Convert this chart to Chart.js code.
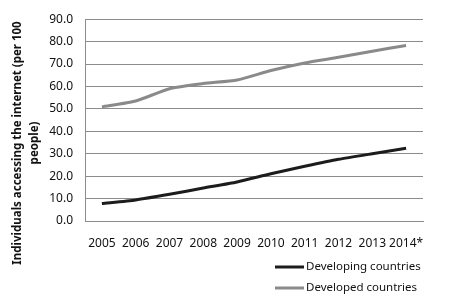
<!DOCTYPE html>
<html lang="en">
<head>
    <meta charset="UTF-8">
    <title>Individuals accessing the internet</title>
    <script src="https://cdn.jsdelivr.net/npm/chart.js"></script>
    <style>
        html, body {
            margin: 0;
            padding: 0;
            background: #fff;
        }
        .container {
            width: 474px;
            height: 301px;
        }
    </style>
</head>
<body>

    <div class="container">
        <canvas id="netChart" width="474" height="301"></canvas>
    </div>

    <script>
        // data
        const years = ['2005', '2006', '2007', '2008', '2009', '2010', '2011', '2012', '2013', '2014*'];
        const developing = [7.8, 9.4, 11.9, 14.7, 17.4, 21.1, 24.4, 27.5, 30.0, 32.4];
        const developed = [50.9, 53.5, 59.0, 61.3, 62.9, 67.1, 70.5, 73.0, 75.7, 78.3];
        const yTitle = ['Individuals accessing the internet (per 100', 'people)'];

        const FONT = '"Noto Sans", sans-serif';
        const GRID = '#8c8c8c';

        // y title and stacked legend, drawn on the canvas
        const extras = {
            id: 'extras',
            afterDraw(chart) {
                const ctx = chart.ctx;
                ctx.save();

                // axis title, centred on the whole chart height
                ctx.fillStyle = '#111';
                ctx.font = 'bold 11.5px ' + FONT;
                ctx.textAlign = 'center';
                ctx.textBaseline = 'middle';
                ctx.translate(18, 143);
                ctx.rotate(-Math.PI / 2);
                ctx.fillText(yTitle[0], 0, 0);
                ctx.fillText(yTitle[1], 0, 17);
                ctx.restore();

                // legend
                ctx.save();
                ctx.font = '11.5px ' + FONT;
                ctx.textBaseline = 'middle';
                ctx.textAlign = 'left';
                chart.data.datasets.forEach((ds, i) => {
                    const y = 267 + i * 21;
                    ctx.strokeStyle = ds.borderColor;
                    ctx.lineWidth = ds.borderWidth;
                    ctx.beginPath();
                    ctx.moveTo(275, y);
                    ctx.lineTo(304, y);
                    ctx.stroke();
                    ctx.fillStyle = '#111';
                    ctx.fillText(ds.label, 306, y);
                });
                ctx.restore();
            }
        };

        new Chart(document.getElementById('netChart'), {
            type: 'line',
            data: {
                labels: years,
                datasets: [{
                    label: 'Developing countries',
                    data: developing,
                    borderColor: '#1c1c1c',
                    borderWidth: 3,
                    pointRadius: 0,
                    tension: 0.2
                }, {
                    label: 'Developed countries',
                    data: developed,
                    borderColor: '#8a8a8a',
                    borderWidth: 3,
                    pointRadius: 0,
                    tension: 0.2
                }]
            },
            options: {
                responsive: false,
                animation: false,
                layout: {
                    padding: { top: 14, right: 51, bottom: 50, left: 0 }
                },
                plugins: {
                    legend: { display: false },
                    tooltip: { enabled: false }
                },
                scales: {
                    x: {
                        offset: true,
                        grid: { display: false },
                        border: { display: true, color: GRID, width: 1 },
                        ticks: {
                            color: '#111',
                            font: { family: FONT, size: 12 },
                            padding: 7,
                            maxRotation: 0,
                            autoSkip: false
                        },
                        afterFit(scale) { scale.height = 30; }
                    },
                    y: {
                        min: 0,
                        max: 90,
                        grid: { color: GRID, drawTicks: false },
                        border: { display: true, color: GRID, width: 1 },
                        ticks: {
                            stepSize: 10,
                            color: '#111',
                            font: { family: FONT, size: 12 },
                            padding: 12,
                            callback: (v) => v.toFixed(1)
                        },
                        afterFit(scale) { scale.width = 85; }
                    }
                }
            },
            plugins: [extras]
        });
    </script>

</body>
</html>
